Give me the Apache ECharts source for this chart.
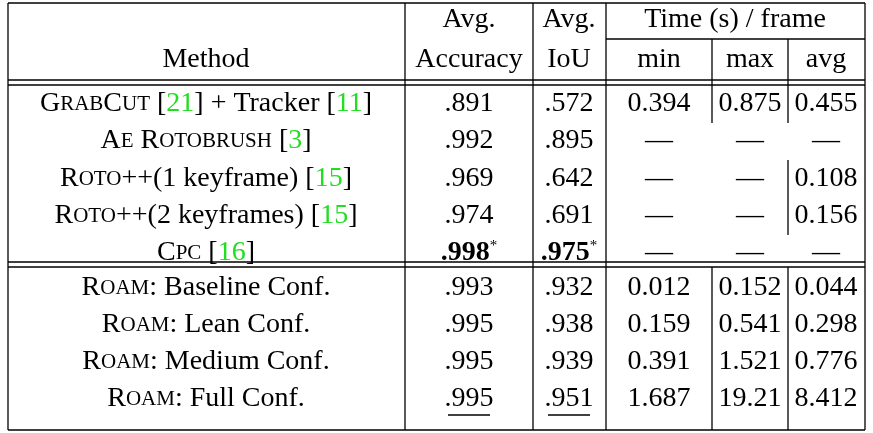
<!DOCTYPE html>
<html><head><meta charset="utf-8">
<script src="https://cdn.jsdelivr.net/npm/echarts@6/dist/echarts.min.js"></script>
<style>html,body{margin:0;padding:0;background:#fff}#c{width:873px;height:433px}</style>
</head><body><div id="c"></div>
<script>
// Data
const methods = [
  '{b|G}{s|RAB}{b|C}{s|UT} [{g|21}] + Tracker [{g|11}]',
  '{b|A}{s|E} {b|R}{s|OTOBRUSH} [{g|3}]',
  '{b|R}{s|OTO}++(1 keyframe) [{g|15}]',
  '{b|R}{s|OTO}++(2 keyframes) [{g|15}]',
  '{b|C}{s|PC} [{g|16}]',
  '{b|R}{s|OAM}: Baseline Conf.',
  '{b|R}{s|OAM}: Lean Conf.',
  '{b|R}{s|OAM}: Medium Conf.',
  '{b|R}{s|OAM}: Full Conf.'
];
const accuracy = ['.891','.992','.969','.974','{bd|.998}{sup|*}','.993','.995','.995','.995'];
const iou = ['.572','.895','.642','.691','{bd|.975}{sup|*}','.932','.938','.939','.951'];
const tMin = ['0.394','—','—','—','—','0.012','0.159','0.391','1.687'];
const tMax = ['0.875','—','—','—','—','0.152','0.541','1.521','19.21'];
const tAvg = ['0.455','—','0.108','0.156','—','0.044','0.298','0.776','8.412'];
// which inner time separators are drawn per row: [min|max, max|avg]
const seps = [[1,1],[0,0],[0,1],[0,1],[0,0],[1,1],[1,1],[1,1],[1,1]];

const F = '"Liberation Serif", "DejaVu Serif", serif';
const FS = 28;
const rich = {
  b:{fontFamily:F,fontSize:FS,fill:'#000'},
  s:{fontFamily:F,fontSize:21,fill:'#000'},
  g:{fontFamily:F,fontSize:FS,fill:'#22dd22'},
  bd:{fontFamily:F,fontSize:FS,fontWeight:'bold',fill:'#000'},
  sup:{fontFamily:F,fontSize:15,fill:'#000',verticalAlign:'top',padding:[0,0,12,0]}
};
const g = [];
function txt(x,y,t){g.push({type:'text',x:x,y:y,style:{text:t,font:FS+'px '+F,fill:'#000',align:'center',verticalAlign:'middle',rich:rich}});}
function line(x1,y1,x2,y2){g.push({type:'line',shape:{x1,y1,x2,y2},style:{stroke:'#000',lineWidth:1.3}});}

const xs=[8,405,533,606,712,788,865];
const cx=[206,469,569,659,750,826];
line(8,3,865,3);
line(606,39,865,39);
line(8,80,865,80); line(8,85,865,85);
line(8,262,865,262); line(8,267,865,267);
line(8,430,865,430);
[0,1,2,3,6].forEach(i=>line(xs[i],3,xs[i],430));
line(xs[4],39,xs[4],85); line(xs[5],39,xs[5],85);
txt(469,20,'Avg.'); txt(469,60,'Accuracy');
txt(569,20,'Avg.'); txt(569,60,'IoU');
txt(735,20,'Time (s) / frame');
txt(206,60,'Method'); txt(659,60,'min'); txt(750,60,'max'); txt(826,60,'avg');
const ys=[104,141,179,216,253,288,325,362,399];
const bounds=[[85,123],[123,160],[160,198],[198,235],[235,262],[267,306],[306,343],[343,380],[380,430]];
methods.forEach((m,i)=>{
  const y=ys[i];
  txt(cx[0],y,m); txt(cx[1],y,accuracy[i]); txt(cx[2],y,iou[i]);
  txt(cx[3],y,tMin[i]); txt(cx[4],y,tMax[i]); txt(cx[5],y,tAvg[i]);
  const [a,b]=bounds[i];
  if(seps[i][0]) line(xs[4],a,xs[4],b);
  if(seps[i][1]) line(xs[5],a,xs[5],b);
});
line(448,415,490,415); line(548,415,590,415);

const chart=echarts.init(document.getElementById('c'));
chart.setOption({animation:false,graphic:g});
</script></body></html>
